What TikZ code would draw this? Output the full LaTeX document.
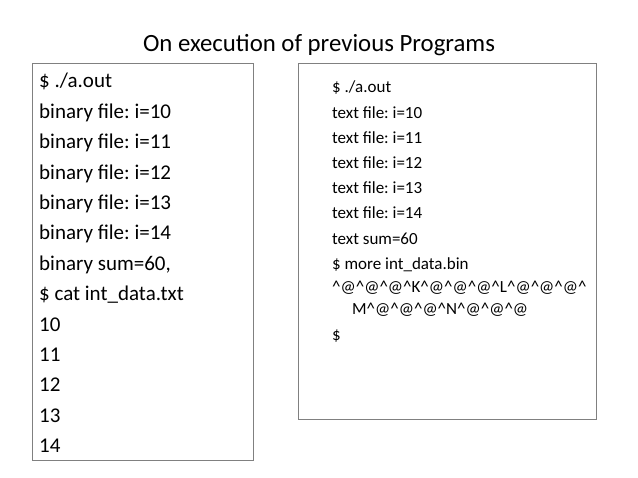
\documentclass[tikz,border=0pt]{standalone}
\usepackage{fontspec}
\setmainfont{Carlito}
\usetikzlibrary{positioning}
\newcommand{\crt}{\textasciicircum}
\frenchspacing

\begin{document}
\begin{tikzpicture}[x=1pt, y=-1pt,
    lline/.style={font=\fontsize{21}{25}\selectfont, inner sep=0pt},
    rline/.style={font=\fontsize{17}{21}\selectfont, inner sep=0pt},
    framebox/.style={draw=black!50, line width=0.8pt, inner sep=0pt, anchor=north west},]
    \useasboundingbox (0,0) rectangle (638,478);
    % title
    \node[font=\fontsize{24.8}{29}\selectfont, anchor=base] (title) at (319,51.5) {On execution of previous Programs};
    % boxes
    \node[framebox, minimum width=221pt, minimum height=397pt] (lbox) at (32,63) {};
    \node[framebox, minimum width=298pt, minimum height=356pt] (rbox) at (298,63) {};
    % left lines
    \node[lline] (l1)  [below right=25pt and 7pt of lbox.north west, anchor=base west] {\$ ./a.out};
    \node[lline] (l2)  [below=30.4pt of l1.base west, anchor=base west]  {binary file: i=10};
    \node[lline] (l3)  [below=30.4pt of l2.base west, anchor=base west]  {binary file: i=11};
    \node[lline] (l4)  [below=30.4pt of l3.base west, anchor=base west]  {binary file: i=12};
    \node[lline] (l5)  [below=30.4pt of l4.base west, anchor=base west]  {binary file: i=13};
    \node[lline] (l6)  [below=30.4pt of l5.base west, anchor=base west]  {binary file: i=14};
    \node[lline] (l7)  [below=30.4pt of l6.base west, anchor=base west]  {binary sum=60,};
    \node[lline] (l8)  [below=30.4pt of l7.base west, anchor=base west]  {\$ cat int\_data.txt};
    \node[lline] (l9)  [below=30.4pt of l8.base west, anchor=base west]  {10};
    \node[lline] (l10) [below=30.4pt of l9.base west, anchor=base west]  {11};
    \node[lline] (l11) [below=30.4pt of l10.base west, anchor=base west] {12};
    \node[lline] (l12) [below=30.4pt of l11.base west, anchor=base west] {13};
    \node[lline] (l13) [below=30.4pt of l12.base west, anchor=base west] {14};
    % right lines
    \node[rline] (r1)  [below right=30pt and 34pt of rbox.north west, anchor=base west] {\$ ./a.out};
    \node[rline] (r2)  [below=25.2pt of r1.base west, anchor=base west] {text file: i=10};
    \node[rline] (r3)  [below=25.2pt of r2.base west, anchor=base west] {text file: i=11};
    \node[rline] (r4)  [below=25.2pt of r3.base west, anchor=base west] {text file: i=12};
    \node[rline] (r5)  [below=25.2pt of r4.base west, anchor=base west] {text file: i=13};
    \node[rline] (r6)  [below=25.2pt of r5.base west, anchor=base west] {text file: i=14};
    \node[rline] (r7)  [below=25.2pt of r6.base west, anchor=base west] {text sum=60};
    \node[rline] (r8)  [below=25.2pt of r7.base west, anchor=base west] {\$ more int\_data.bin};
    \node[rline] (r9)  [below=23pt of r8.base west, anchor=base west]   {\crt@\crt@\crt@\crt K\crt@\crt@\crt@\crt L\crt@\crt@\crt@\crt};
    \node[rline] (r10) [below right=22pt and 20pt of r9.base west, anchor=base west] {M\crt@\crt@\crt@\crt N\crt@\crt@\crt@};
    \node[rline] (r11) [below left=26pt and 20pt of r10.base west, anchor=base west] {\$};
\end{tikzpicture}
\end{document}
